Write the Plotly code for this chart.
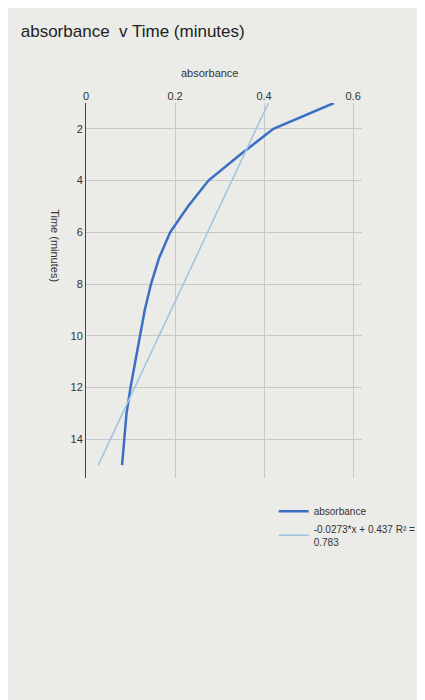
import plotly.graph_objects as go

time_min = [1, 2, 3, 4, 5, 6, 7, 8, 9, 10, 11, 12, 13, 14, 15]
absorbance = [0.557, 0.421, 0.346, 0.275, 0.229, 0.189, 0.164, 0.146, 0.132,
              0.121, 0.111, 0.100, 0.091, 0.086, 0.081]
slope, intercept = -0.0273, 0.437
trend = [slope * t + intercept for t in time_min]

fig = go.Figure()
fig.add_trace(go.Scatter(x=absorbance, y=time_min, mode="lines", name="absorbance",
                         line=dict(color="#3a6fc4", width=2.5)))
fig.add_trace(go.Scatter(x=trend, y=time_min, mode="lines",
                         name="-0.0273*x + 0.437 R² =<br>0.783",
                         line=dict(color="#9fc3e0", width=1.5)))

fig.update_layout(
    width=425, height=700,
    paper_bgcolor="#ebebe8", plot_bgcolor="#ebebe8",
    font=dict(family="Liberation Sans, Arial", color="#333", size=11),
    margin=dict(l=78, r=67, t=95, b=230),
    title=dict(text="absorbance  v Time (minutes)", x=0.03, y=0.975,
               font=dict(size=17, color="#222")),
    xaxis=dict(side="top", range=[0, 0.62], tickvals=[0, 0.2, 0.4, 0.6],
               ticktext=["0", "0.2", "0.4", "0.6"], showgrid=True,
               gridcolor="#c8c8c8", zeroline=False, showline=False),
    yaxis=dict(range=[15.5, 1], tickvals=[2, 4, 6, 8, 10, 12, 14],
               showgrid=True, gridcolor="#c8c8c8", zeroline=False,
               showline=True, linecolor="#444"),
    legend=dict(x=0.68, y=-0.05, xanchor="left", yanchor="top",
                bgcolor="rgba(0,0,0,0)", font=dict(size=10)),
    annotations=[
        dict(text="absorbance", x=0.45, y=1.1, xref="paper", yref="paper",
             showarrow=False, font=dict(size=11)),
        dict(text="Time (minutes)", x=-0.14, y=0.62, xref="paper", yref="paper",
             showarrow=False, textangle=90, font=dict(size=11)),
    ],
)
fig.write_html("out.html")
